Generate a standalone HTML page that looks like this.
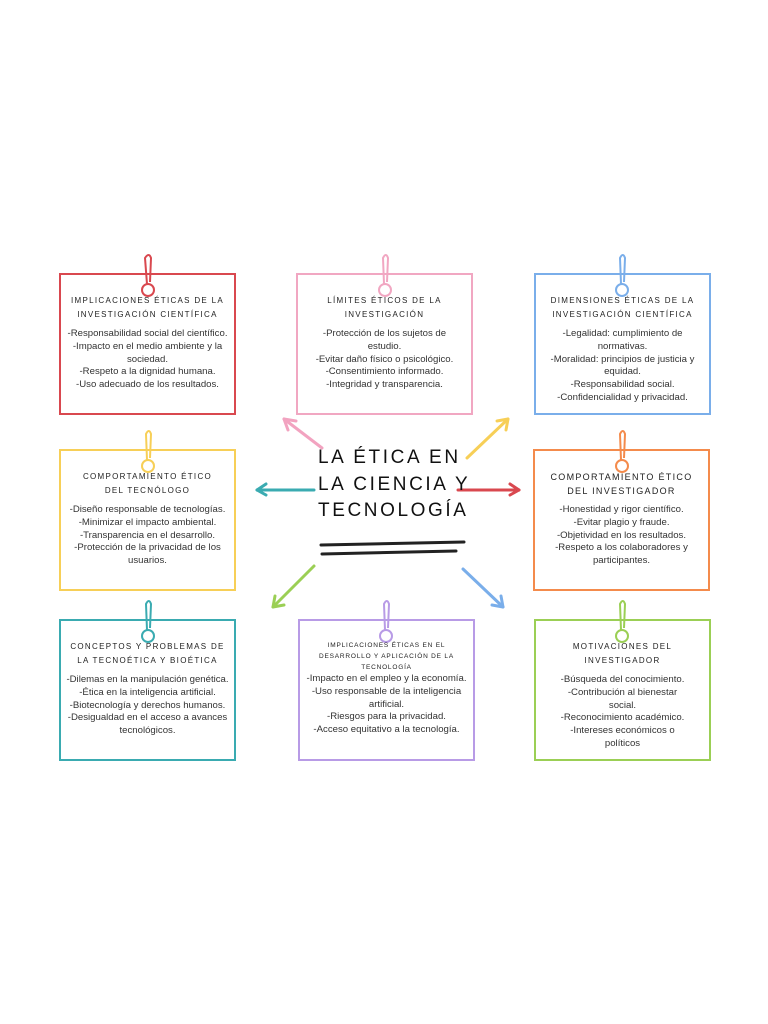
<!DOCTYPE html>
<html><head><meta charset="utf-8"><style>
body{margin:0;width:768px;height:1024px;background:#fff;position:relative;font-family:"Liberation Sans",sans-serif;overflow:hidden}
.b{position:absolute;width:177px;height:142px;border:2px solid;box-sizing:border-box;text-align:center;color:#333}
.h{font-size:8px;letter-spacing:1.3px;text-transform:uppercase;color:#222;line-height:14px;margin-top:19px;padding:0 4px}
.t{font-size:9.6px;line-height:12.8px;margin-top:6px;color:#333;padding:0 3px}
.title{position:absolute;left:318px;top:445px;font-size:19px;letter-spacing:2.6px;line-height:26.5px;color:#111}
svg{position:absolute;left:0;top:0}
</style></head><body>
<svg width="768" height="1024">
<g fill="none" stroke-width="2">
<g stroke="#d9484f"><path d="M147,284 L145,258 Q149,252 151,258 L150,282"/><circle cx="148" cy="290" r="6"/></g>
<g stroke="#f1a7c2"><path d="M384,284 L383,258 Q386,252 388,258 L387,282"/><circle cx="385" cy="290" r="6"/></g>
<g stroke="#7aaeea"><path d="M621,284 L620,258 Q623,252 625,258 L624,282"/><circle cx="622" cy="290" r="6"/></g>
<g stroke="#f7cf57"><path d="M147,460 L146,434 Q149,428 151,434 L150,458"/><circle cx="148" cy="466" r="6"/></g>
<g stroke="#f48b4c"><path d="M621,460 L620,434 Q623,428 625,434 L624,458"/><circle cx="622" cy="466" r="6"/></g>
<g stroke="#3aabb1"><path d="M147,630 L146,604 Q149,598 151,604 L150,628"/><circle cx="148" cy="636" r="6"/></g>
<g stroke="#b89be6"><path d="M385,630 L384,604 Q387,598 389,604 L388,628"/><circle cx="386" cy="636" r="6"/></g>
<g stroke="#9bcf55"><path d="M621,630 L620,604 Q623,598 625,604 L624,628"/><circle cx="622" cy="636" r="6"/></g>
<g stroke-width="3" stroke-linecap="round">
<path d="M322,448 L284,419" stroke="#f2a3c0"/><path d="M284,419 l12,2 M284,419 l4,11" stroke="#f2a3c0"/>
<path d="M467,458 L508,419" stroke="#f7cf57"/><path d="M508,419 l-11,2 M508,419 l-2,11" stroke="#f7cf57"/>
<path d="M314,490 L257,490" stroke="#3aabb1"/><path d="M257,490 l9,-6 M257,490 l9,5" stroke="#3aabb1"/>
<path d="M458,490 L519,490" stroke="#d9484f"/><path d="M519,490 l-9,-6 M519,490 l-9,5" stroke="#d9484f"/>
<path d="M314,566 L273,607" stroke="#9bcf55"/><path d="M273,607 l2,-11 M273,607 l11,-2" stroke="#9bcf55"/>
<path d="M463,569 L503,607" stroke="#7aaeea"/><path d="M503,607 l-11,-2 M503,607 l-2,-11" stroke="#7aaeea"/>
<path d="M321,545 L464,542" stroke="#222" stroke-width="3"/>
<path d="M322,554 L456,551" stroke="#222" stroke-width="3"/>
</g>
</g>
</svg>
<div class="b" style="left:59px;top:273px;border-color:#d9484f"><div class="h">Implicaciones éticas de la investigación científica</div><div class="t">-Responsabilidad social del científico.<br>-Impacto en el medio ambiente y la sociedad.<br>-Respeto a la dignidad humana.<br>-Uso adecuado de los resultados.</div></div>
<div class="b" style="left:296px;top:273px;border-color:#f1a7c2"><div class="h" style="padding:0 25px">Límites éticos de la investigación</div><div class="t" style="padding:0 12px">-Protección de los sujetos de estudio.<br>-Evitar daño físico o psicológico.<br>-Consentimiento informado.<br>-Integridad y transparencia.</div></div>
<div class="b" style="left:534px;top:273px;border-color:#7aaeea"><div class="h">Dimensiones éticas de la investigación científica</div><div class="t" style="padding:0 14px">-Legalidad: cumplimiento de normativas.<br>-Moralidad: principios de justicia y equidad.<br>-Responsabilidad social.<br>-Confidencialidad y privacidad.</div></div>
<div class="b" style="left:59px;top:449px;border-color:#f7cf57"><div class="h" style="padding:0 14px">Comportamiento ético del tecnólogo</div><div class="t">-Diseño responsable de tecnologías.<br>-Minimizar el impacto ambiental.<br>-Transparencia en el desarrollo.<br>-Protección de la privacidad de los usuarios.</div></div>
<div class="b" style="left:533px;top:449px;border-color:#f48b4c"><div class="h" style="font-size:9px">Comportamiento ético del investigador</div><div class="t" style="padding:0 10px">-Honestidad y rigor científico.<br>-Evitar plagio y fraude.<br>-Objetividad en los resultados.<br>-Respeto a los colaboradores y participantes.</div></div>
<div class="b" style="left:59px;top:619px;border-color:#3aabb1"><div class="h">Conceptos y problemas de la tecnoética y bioética</div><div class="t">-Dilemas en la manipulación genética.<br>-Ética en la inteligencia artificial.<br>-Biotecnología y derechos humanos.<br>-Desigualdad en el acceso a avances tecnológicos.</div></div>
<div class="b" style="left:298px;top:619px;border-color:#b89be6"><div class="h" style="font-size:6.5px;letter-spacing:0.8px;line-height:11px;margin-top:19px;padding:0 18px">Implicaciones éticas en el desarrollo y aplicación de la tecnología</div><div class="t" style="margin-top:0;padding:0 2px">-Impacto en el empleo y la economía.<br>-Uso responsable de la inteligencia artificial.<br>-Riesgos para la privacidad.<br>-Acceso equitativo a la tecnología.</div></div>
<div class="b" style="left:534px;top:619px;border-color:#9bcf55"><div class="h" style="padding:0 25px">Motivaciones del investigador</div><div class="t" style="padding:0 18px">-Búsqueda del conocimiento.<br>-Contribución al bienestar social.<br>-Reconocimiento académico.<br>-Intereses económicos o políticos</div></div>
<div class="title">LA ÉTICA EN<br>LA CIENCIA Y<br>TECNOLOGÍA</div>
</body></html>
